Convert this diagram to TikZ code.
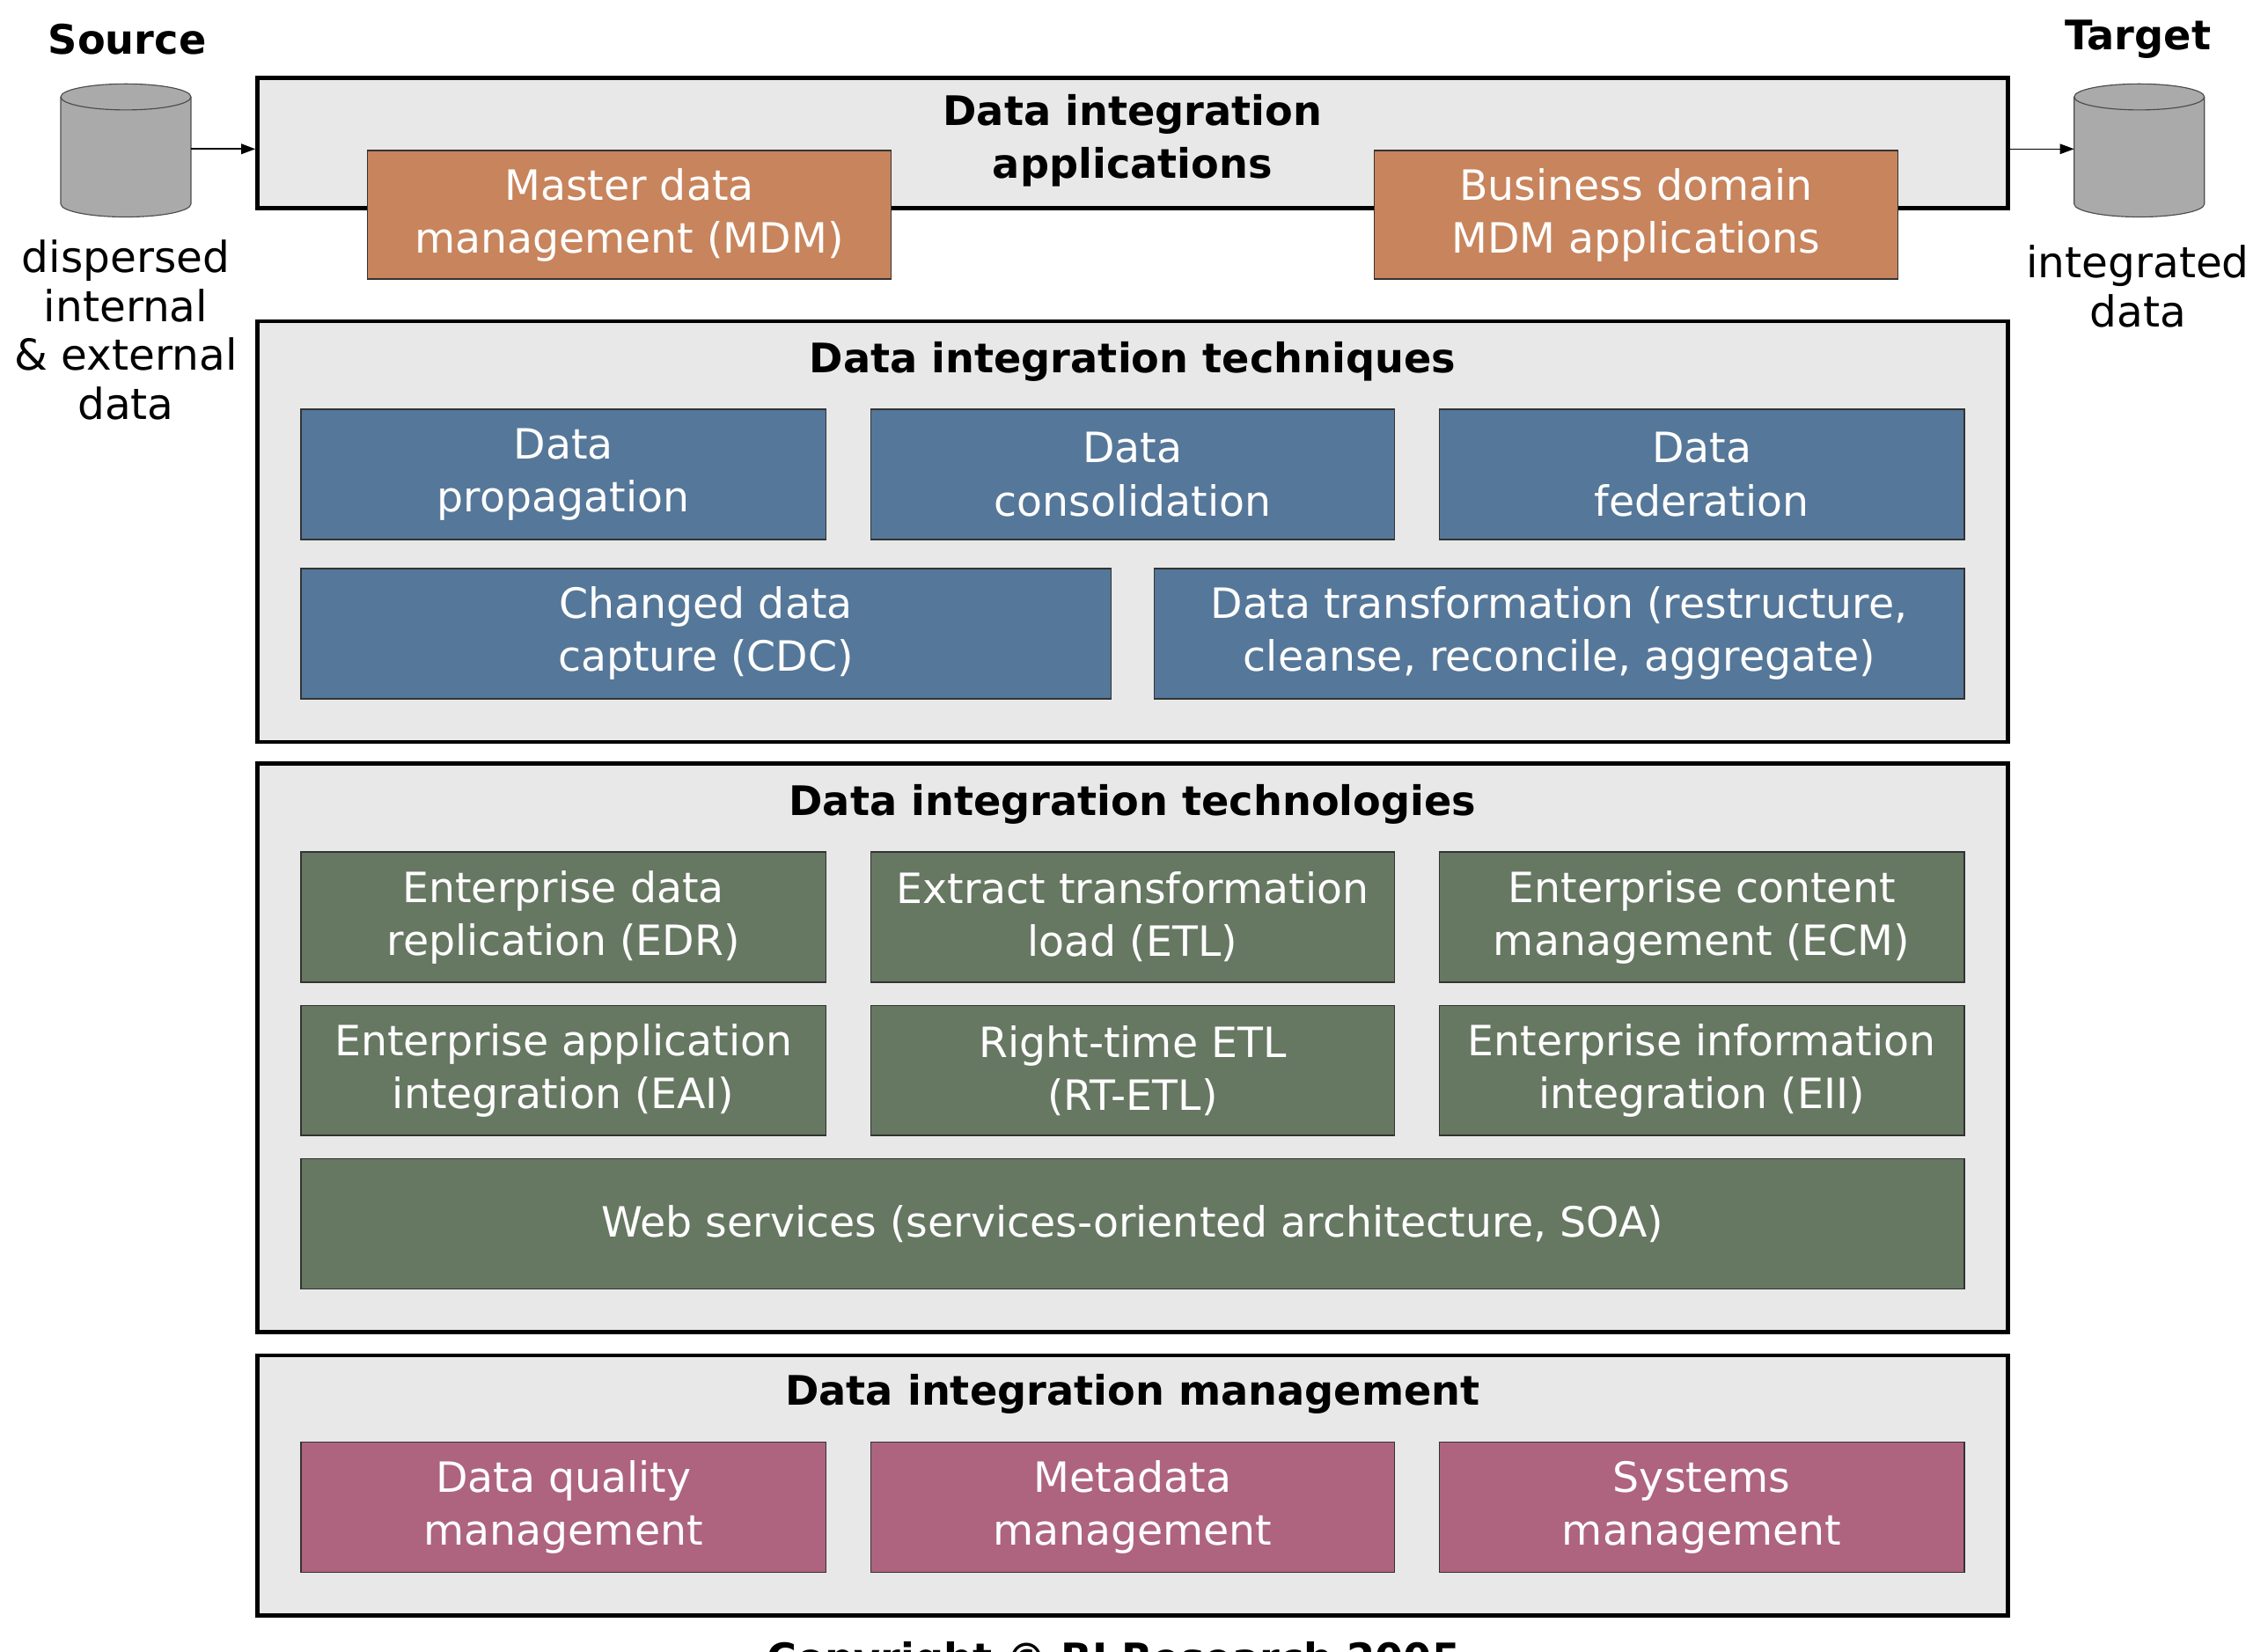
\documentclass[tikz,border=0pt]{standalone}
\usepackage{fontspec}
\setmainfont{DejaVu Sans}
\usetikzlibrary{fit,arrows.meta}
\definecolor{panel}{HTML}{E8E8E8}
\definecolor{orangebox}{HTML}{C8845C}
\definecolor{bluebox}{HTML}{557799}
\definecolor{greenbox}{HTML}{667762}
\definecolor{pinkbox}{HTML}{AE637E}
\definecolor{cyl}{HTML}{AAAAAA}
\begin{document}
\begin{tikzpicture}[x=0.025cm,y=-0.025cm,
  panelbox/.style={draw=black,line width=2pt,fill=panel,inner sep=0pt},
  cbox/.style={draw=black!80,line width=0.6pt,inner sep=0pt},
  ctext/.style={text=white,align=center,font=\fontsize{20.5}{26}\selectfont},
  titletext/.style={font=\bfseries\fontsize{20}{26}\selectfont,align=center},
  sidetext/.style={font=\fontsize{21}{24}\selectfont,align=center}]
\useasboundingbox (0,0) rectangle (1568,1142);
% panels
\node[panelbox,fit={(178,54)(1388,144)}] (apps) {};
\node[panelbox,fit={(178,222)(1388,513)}] (tech) {};
\node[panelbox,fit={(178,528)(1388,921)}] (techno) {};
\node[panelbox,fit={(178,937)(1388,1117)}] (mgmt) {};
% titles
\node[titletext] (tapps) at (783,97) {Data integration\\applications};
\node[titletext] (ttech) at (783,250) {Data integration techniques};
\node[titletext] (ttechno) at (783,556) {Data integration technologies};
\node[titletext] (tmgmt) at (783,964) {Data integration management};
% orange
\node[cbox,fill=orangebox,fit={(254,104)(616,193)}] (mdm) {};
\node[ctext] at (mdm.center) {Master data\\management (MDM)};
\node[cbox,fill=orangebox,fit={(950,104)(1312,193)}] (bdm) {};
\node[ctext] at (bdm.center) {Business domain\\MDM applications};
% blue
\node[cbox,fill=bluebox,fit={(208,283)(571,373)}] (prop) {};
\node[ctext] at (prop.center) {Data\\propagation};
\node[cbox,fill=bluebox,fit={(602,283)(964,373)}] (cons) {};
\node[ctext] at (cons.center) {Data\\consolidation};
\node[cbox,fill=bluebox,fit={(995,283)(1358,373)}] (fed) {};
\node[ctext] at (fed.center) {Data\\federation};
\node[cbox,fill=bluebox,fit={(208,393)(768,483)}] (cdc) {};
\node[ctext] at (cdc.center) {Changed data\\capture (CDC)};
\node[cbox,fill=bluebox,fit={(798,393)(1358,483)}] (trans) {};
\node[ctext] at (trans.center) {Data transformation (restructure,\\cleanse, reconcile, aggregate)};
% green
\node[cbox,fill=greenbox,fit={(208,589)(571,679)}] (edr) {};
\node[ctext] at (edr.center) {Enterprise data\\replication (EDR)};
\node[cbox,fill=greenbox,fit={(602,589)(964,679)}] (etl) {};
\node[ctext] at (etl.center) {Extract transformation\\load (ETL)};
\node[cbox,fill=greenbox,fit={(995,589)(1358,679)}] (ecm) {};
\node[ctext] at (ecm.center) {Enterprise content\\management (ECM)};
\node[cbox,fill=greenbox,fit={(208,695)(571,785)}] (eai) {};
\node[ctext] at (eai.center) {Enterprise application\\integration (EAI)};
\node[cbox,fill=greenbox,fit={(602,695)(964,785)}] (rtetl) {};
\node[ctext] at (rtetl.center) {Right-time ETL\\(RT-ETL)};
\node[cbox,fill=greenbox,fit={(995,695)(1358,785)}] (eii) {};
\node[ctext] at (eii.center) {Enterprise information\\integration (EII)};
\node[cbox,fill=greenbox,fit={(208,801)(1358,891)}] (ws) {};
\node[ctext] at (ws.center) {Web services (services-oriented architecture, SOA)};
% pink
\node[cbox,fill=pinkbox,fit={(208,997)(571,1087)}] (dq) {};
\node[ctext] at (dq.center) {Data quality\\management};
\node[cbox,fill=pinkbox,fit={(602,997)(964,1087)}] (meta) {};
\node[ctext] at (meta.center) {Metadata\\management};
\node[cbox,fill=pinkbox,fit={(995,997)(1358,1087)}] (sys) {};
\node[ctext] at (sys.center) {Systems\\management};
% source / target
\node[font=\bfseries\fontsize{20}{24}\selectfont] (src) at (88,27) {Source};
\node[font=\bfseries\fontsize{20}{24}\selectfont] (tgt) at (1478,27) {Target};
% cylinders
\foreach \cx/\nm in {87/scyl,1479/tcyl}{
  \filldraw[fill=cyl,draw=black!70,line width=0.5pt]
    (\cx-45,67) -- (\cx-45,141) arc[start angle=180,end angle=0,x radius=45,y radius=9]
    -- (\cx+45,67) arc[start angle=0,end angle=-180,x radius=45,y radius=9] -- cycle;
  \draw[black!70,line width=0.5pt] (\cx-45,67) arc[start angle=180,end angle=0,x radius=45,y radius=9];
  \coordinate (\nm-w) at (\cx-45,103);
  \coordinate (\nm-e) at (\cx+45,103);
}
\node[sidetext] (stxt) at (87,228) {dispersed\\internal\\\& external\\data};
\node[sidetext] (ttxt) at (1478,198) {integrated\\data};
\draw[-{Triangle[length=7pt,width=5pt]},line width=0.8pt] (scyl-e) -- (scyl-e -| apps.west);
\draw[-{Triangle[length=7pt,width=5pt]},line width=0.5pt] (tcyl-w -| apps.east) -- (tcyl-w);
% copyright
\node[font=\bfseries\fontsize{20}{24}\selectfont,anchor=north] (copy) at (770,1130) {Copyright © BI Research 2005};
\end{tikzpicture}
\end{document}
